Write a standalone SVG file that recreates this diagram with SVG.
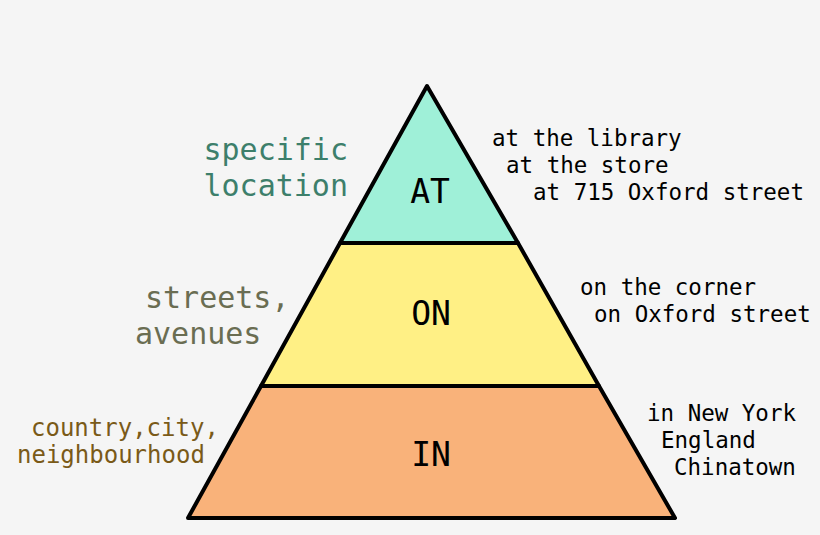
<svg xmlns="http://www.w3.org/2000/svg" width="820" height="535" viewBox="0 0 820 535">
<style>
.band{stroke:#000;stroke-width:4;stroke-linejoin:round}
.lvl{font-family:"DejaVu Sans Mono",monospace;font-size:33px;fill:#000;text-anchor:middle}
.ex{font-family:"DejaVu Sans Mono",monospace;font-size:22.5px;fill:#000}
.lab{font-family:"DejaVu Sans Mono",monospace;font-size:30px}
.lab2{font-family:"DejaVu Sans Mono",monospace;font-size:24px}
</style>
<rect width="820" height="535" fill="#f5f5f5"/>
<g id="node-in">
<polygon class="band" points="261,386 599,386 675,518 188,518" fill="#f9b27a"/>
<text class="lvl" x="431" y="466">IN</text>
</g>
<g id="node-on">
<polygon class="band" points="340,243 518,243 599,386 261,386" fill="#fff085"/>
<text class="lvl" x="431" y="325">ON</text>
</g>
<g id="node-at">
<polygon class="band" points="427,86 518,243 340,243" fill="#9ff0d8"/>
<text class="lvl" x="430" y="203">AT</text>
</g>
<g id="labels-left">
<text class="lab" x="348" y="160" text-anchor="end" fill="#3d7f6b">specific</text>
<text class="lab" x="348" y="196" text-anchor="end" fill="#3d7f6b">location</text>
<text class="lab" x="145" y="308" fill="#6a6d52">streets,</text>
<text class="lab" x="135" y="344" fill="#6a6d52">avenues</text>
<text class="lab2" x="31" y="436" fill="#7a5a18">country,city,</text>
<text class="lab2" x="17" y="463" fill="#7a5a18">neighbourhood</text>
</g>
<g id="labels-right">
<text class="ex" x="492" y="146">at the library</text>
<text class="ex" x="506" y="173">at the store</text>
<text class="ex" x="533" y="200">at 715 Oxford street</text>
<text class="ex" x="580" y="295">on the corner</text>
<text class="ex" x="594" y="322">on Oxford street</text>
<text class="ex" x="647" y="421">in New York</text>
<text class="ex" x="661" y="448">England</text>
<text class="ex" x="674" y="475">Chinatown</text>
</g>
<g id="connectors"></g>
</svg>
